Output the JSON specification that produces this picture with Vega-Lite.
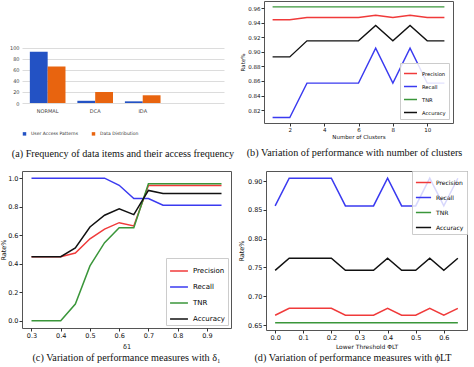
{
  "$schema": "https://vega.github.io/schema/vega-lite/v6.json",
  "padding": 0,
  "background": "white",
  "spacing": 10,
  "resolve": {"scale": {"color": "independent"}, "legend": {"color": "independent"}},
  "config": {
    "font": "DejaVu Sans",
    "view": {"stroke": "#555"},
    "axis": {"grid": false, "domain": false, "tickColor": "#333", "labelColor": "#111", "titleColor": "#111", "titleFontWeight": "normal", "tickSize": 3, "labelPadding": 1, "titlePadding": 2},
    "title": {"font": "Liberation Serif", "fontSize": 10.2, "fontWeight": "normal", "color": "#111", "orient": "bottom"},
    "legend": {"title": null}
  },
  "datasets": {
    "bars": [
      {"category": "NORMAL", "series": "User Access Patterns", "value": 93},
      {"category": "DCA", "series": "User Access Patterns", "value": 4},
      {"category": "IDA", "series": "User Access Patterns", "value": 3},
      {"category": "NORMAL", "series": "Data Distribution", "value": 66},
      {"category": "DCA", "series": "Data Distribution", "value": 20},
      {"category": "IDA", "series": "Data Distribution", "value": 14}
    ],
    "clusters": [
      {"s": "Precision", "x": 1, "v": 0.944}, {"s": "Precision", "x": 2, "v": 0.944}, {"s": "Precision", "x": 3, "v": 0.947}, {"s": "Precision", "x": 4, "v": 0.947}, {"s": "Precision", "x": 5, "v": 0.947}, {"s": "Precision", "x": 6, "v": 0.947}, {"s": "Precision", "x": 7, "v": 0.95}, {"s": "Precision", "x": 8, "v": 0.947}, {"s": "Precision", "x": 9, "v": 0.95}, {"s": "Precision", "x": 10, "v": 0.947}, {"s": "Precision", "x": 11, "v": 0.947},
      {"s": "Recall", "x": 1, "v": 0.81}, {"s": "Recall", "x": 2, "v": 0.81}, {"s": "Recall", "x": 3, "v": 0.857}, {"s": "Recall", "x": 4, "v": 0.857}, {"s": "Recall", "x": 5, "v": 0.857}, {"s": "Recall", "x": 6, "v": 0.857}, {"s": "Recall", "x": 7, "v": 0.905}, {"s": "Recall", "x": 8, "v": 0.857}, {"s": "Recall", "x": 9, "v": 0.905}, {"s": "Recall", "x": 10, "v": 0.857}, {"s": "Recall", "x": 11, "v": 0.857},
      {"s": "TNR", "x": 1, "v": 0.9615}, {"s": "TNR", "x": 2, "v": 0.9615}, {"s": "TNR", "x": 3, "v": 0.9615}, {"s": "TNR", "x": 4, "v": 0.9615}, {"s": "TNR", "x": 5, "v": 0.9615}, {"s": "TNR", "x": 6, "v": 0.9615}, {"s": "TNR", "x": 7, "v": 0.9615}, {"s": "TNR", "x": 8, "v": 0.9615}, {"s": "TNR", "x": 9, "v": 0.9615}, {"s": "TNR", "x": 10, "v": 0.9615}, {"s": "TNR", "x": 11, "v": 0.9615},
      {"s": "Accuracy", "x": 1, "v": 0.893}, {"s": "Accuracy", "x": 2, "v": 0.893}, {"s": "Accuracy", "x": 3, "v": 0.915}, {"s": "Accuracy", "x": 4, "v": 0.915}, {"s": "Accuracy", "x": 5, "v": 0.915}, {"s": "Accuracy", "x": 6, "v": 0.915}, {"s": "Accuracy", "x": 7, "v": 0.936}, {"s": "Accuracy", "x": 8, "v": 0.915}, {"s": "Accuracy", "x": 9, "v": 0.936}, {"s": "Accuracy", "x": 10, "v": 0.915}, {"s": "Accuracy", "x": 11, "v": 0.915}
    ],
    "delta": [
      {"s": "Precision", "x": 0.30, "v": 0.45}, {"s": "Precision", "x": 0.35, "v": 0.45}, {"s": "Precision", "x": 0.40, "v": 0.45}, {"s": "Precision", "x": 0.45, "v": 0.475}, {"s": "Precision", "x": 0.50, "v": 0.575}, {"s": "Precision", "x": 0.55, "v": 0.643}, {"s": "Precision", "x": 0.60, "v": 0.688}, {"s": "Precision", "x": 0.65, "v": 0.665}, {"s": "Precision", "x": 0.70, "v": 0.948}, {"s": "Precision", "x": 0.75, "v": 0.948}, {"s": "Precision", "x": 0.80, "v": 0.948}, {"s": "Precision", "x": 0.85, "v": 0.948}, {"s": "Precision", "x": 0.90, "v": 0.948}, {"s": "Precision", "x": 0.95, "v": 0.948},
      {"s": "Recall", "x": 0.30, "v": 1.0}, {"s": "Recall", "x": 0.35, "v": 1.0}, {"s": "Recall", "x": 0.40, "v": 1.0}, {"s": "Recall", "x": 0.45, "v": 1.0}, {"s": "Recall", "x": 0.50, "v": 1.0}, {"s": "Recall", "x": 0.55, "v": 1.0}, {"s": "Recall", "x": 0.60, "v": 0.95}, {"s": "Recall", "x": 0.65, "v": 0.857}, {"s": "Recall", "x": 0.70, "v": 0.857}, {"s": "Recall", "x": 0.75, "v": 0.81}, {"s": "Recall", "x": 0.80, "v": 0.81}, {"s": "Recall", "x": 0.85, "v": 0.81}, {"s": "Recall", "x": 0.90, "v": 0.81}, {"s": "Recall", "x": 0.95, "v": 0.81},
      {"s": "TNR", "x": 0.30, "v": 0.0}, {"s": "TNR", "x": 0.35, "v": 0.0}, {"s": "TNR", "x": 0.40, "v": 0.0}, {"s": "TNR", "x": 0.45, "v": 0.118}, {"s": "TNR", "x": 0.50, "v": 0.385}, {"s": "TNR", "x": 0.55, "v": 0.548}, {"s": "TNR", "x": 0.60, "v": 0.652}, {"s": "TNR", "x": 0.65, "v": 0.652}, {"s": "TNR", "x": 0.70, "v": 0.96}, {"s": "TNR", "x": 0.75, "v": 0.96}, {"s": "TNR", "x": 0.80, "v": 0.96}, {"s": "TNR", "x": 0.85, "v": 0.96}, {"s": "TNR", "x": 0.90, "v": 0.96}, {"s": "TNR", "x": 0.95, "v": 0.96},
      {"s": "Accuracy", "x": 0.30, "v": 0.45}, {"s": "Accuracy", "x": 0.35, "v": 0.45}, {"s": "Accuracy", "x": 0.40, "v": 0.45}, {"s": "Accuracy", "x": 0.45, "v": 0.511}, {"s": "Accuracy", "x": 0.50, "v": 0.658}, {"s": "Accuracy", "x": 0.55, "v": 0.74}, {"s": "Accuracy", "x": 0.60, "v": 0.785}, {"s": "Accuracy", "x": 0.65, "v": 0.744}, {"s": "Accuracy", "x": 0.70, "v": 0.914}, {"s": "Accuracy", "x": 0.75, "v": 0.893}, {"s": "Accuracy", "x": 0.80, "v": 0.893}, {"s": "Accuracy", "x": 0.85, "v": 0.893}, {"s": "Accuracy", "x": 0.90, "v": 0.893}, {"s": "Accuracy", "x": 0.95, "v": 0.893}
    ],
    "phi": [
      {"s": "Precision", "x": 0.00, "v": 0.667}, {"s": "Precision", "x": 0.05, "v": 0.679}, {"s": "Precision", "x": 0.10, "v": 0.679}, {"s": "Precision", "x": 0.15, "v": 0.679}, {"s": "Precision", "x": 0.20, "v": 0.679}, {"s": "Precision", "x": 0.25, "v": 0.667}, {"s": "Precision", "x": 0.30, "v": 0.667}, {"s": "Precision", "x": 0.35, "v": 0.667}, {"s": "Precision", "x": 0.40, "v": 0.679}, {"s": "Precision", "x": 0.45, "v": 0.667}, {"s": "Precision", "x": 0.50, "v": 0.667}, {"s": "Precision", "x": 0.55, "v": 0.679}, {"s": "Precision", "x": 0.60, "v": 0.667}, {"s": "Precision", "x": 0.65, "v": 0.679},
      {"s": "Recall", "x": 0.00, "v": 0.857}, {"s": "Recall", "x": 0.05, "v": 0.905}, {"s": "Recall", "x": 0.10, "v": 0.905}, {"s": "Recall", "x": 0.15, "v": 0.905}, {"s": "Recall", "x": 0.20, "v": 0.905}, {"s": "Recall", "x": 0.25, "v": 0.857}, {"s": "Recall", "x": 0.30, "v": 0.857}, {"s": "Recall", "x": 0.35, "v": 0.857}, {"s": "Recall", "x": 0.40, "v": 0.905}, {"s": "Recall", "x": 0.45, "v": 0.857}, {"s": "Recall", "x": 0.50, "v": 0.857}, {"s": "Recall", "x": 0.55, "v": 0.905}, {"s": "Recall", "x": 0.60, "v": 0.857}, {"s": "Recall", "x": 0.65, "v": 0.905},
      {"s": "TNR", "x": 0.00, "v": 0.654}, {"s": "TNR", "x": 0.05, "v": 0.654}, {"s": "TNR", "x": 0.10, "v": 0.654}, {"s": "TNR", "x": 0.15, "v": 0.654}, {"s": "TNR", "x": 0.20, "v": 0.654}, {"s": "TNR", "x": 0.25, "v": 0.654}, {"s": "TNR", "x": 0.30, "v": 0.654}, {"s": "TNR", "x": 0.35, "v": 0.654}, {"s": "TNR", "x": 0.40, "v": 0.654}, {"s": "TNR", "x": 0.45, "v": 0.654}, {"s": "TNR", "x": 0.50, "v": 0.654}, {"s": "TNR", "x": 0.55, "v": 0.654}, {"s": "TNR", "x": 0.60, "v": 0.654}, {"s": "TNR", "x": 0.65, "v": 0.654},
      {"s": "Accuracy", "x": 0.00, "v": 0.745}, {"s": "Accuracy", "x": 0.05, "v": 0.766}, {"s": "Accuracy", "x": 0.10, "v": 0.766}, {"s": "Accuracy", "x": 0.15, "v": 0.766}, {"s": "Accuracy", "x": 0.20, "v": 0.766}, {"s": "Accuracy", "x": 0.25, "v": 0.745}, {"s": "Accuracy", "x": 0.30, "v": 0.745}, {"s": "Accuracy", "x": 0.35, "v": 0.745}, {"s": "Accuracy", "x": 0.40, "v": 0.766}, {"s": "Accuracy", "x": 0.45, "v": 0.745}, {"s": "Accuracy", "x": 0.50, "v": 0.745}, {"s": "Accuracy", "x": 0.55, "v": 0.766}, {"s": "Accuracy", "x": 0.60, "v": 0.745}, {"s": "Accuracy", "x": 0.65, "v": 0.766}
    ]
  },
  "vconcat": [
    {
      "spacing": 5,
      "resolve": {"scale": {"color": "independent"}, "legend": {"color": "independent"}},
      "hconcat": [
        {
          "width": 202,
          "height": 102,
          "data": {"name": "bars"},
          "title": {"text": "(a) Frequency of data items and their access frequency", "offset": 13, "frame": "group"},
          "view": {"stroke": null},
          "mark": {"type": "bar"},
          "encoding": {
            "x": {"field": "category", "type": "nominal", "sort": ["NORMAL", "DCA", "IDA"], "scale": {"paddingInner": 0.25, "paddingOuter": 0.75, "align": 0.11}, "axis": {"title": null, "labelAngle": 0, "ticks": false, "labelFontSize": 5, "labelColor": "#444", "labelPadding": 5}},
            "xOffset": {"field": "series", "type": "nominal", "sort": ["User Access Patterns", "Data Distribution"]},
            "y": {"field": "value", "type": "quantitative", "scale": {"domain": [0, 185], "nice": false}, "axis": {"values": [0, 20, 40, 60, 80, 100], "grid": true, "gridColor": "#dcdcdc", "ticks": false, "title": null, "labelFontSize": 5, "labelColor": "#444", "labelPadding": 3}},
            "color": {"field": "series", "type": "nominal", "scale": {"domain": ["User Access Patterns", "Data Distribution"], "range": ["#2352c4", "#e8640f"]}, "legend": {"orient": "bottom", "direction": "horizontal", "labelFontSize": 4.5, "labelColor": "#333", "symbolType": "square", "symbolSize": 12, "columnPadding": 12, "offset": 18}}
          }
        },
        {
          "width": 189,
          "height": 122,
          "data": {"name": "clusters"},
          "title": {"text": "(b) Variation of performance with number of clusters", "offset": 8, "frame": "group", "dx": -4},
          "mark": {"type": "line", "strokeWidth": 1.4},
          "encoding": {
            "x": {"field": "x", "type": "quantitative", "scale": {"domain": [0.5, 11.5], "nice": false, "zero": false}, "axis": {"values": [2, 4, 6, 8, 10], "title": "Number of Clusters", "labelFontSize": 5.5, "titleFontSize": 5.5}},
            "y": {"field": "v", "type": "quantitative", "scale": {"domain": [0.8024, 0.9696], "nice": false, "zero": false}, "axis": {"values": [0.82, 0.84, 0.86, 0.88, 0.9, 0.92, 0.94, 0.96], "format": ".2f", "title": "Rate%", "labelFontSize": 5.5, "titleFontSize": 5.5}},
            "color": {"field": "s", "type": "nominal", "scale": {"domain": ["Precision", "Recall", "TNR", "Accuracy"], "range": ["#f03a3a", "#3a3af0", "#3a963a", "#111111"]}, "legend": {"orient": "bottom-right", "symbolType": "stroke", "symbolSize": 170, "symbolStrokeWidth": 1.5, "labelFontSize": 5.2, "fillColor": "rgba(255,255,255,0.85)", "strokeColor": "#ccc", "padding": 3, "rowPadding": 2, "offset": 4}}
          }
        }
      ]
    },
    {
      "spacing": 6,
      "resolve": {"scale": {"color": "independent"}, "legend": {"color": "independent"}},
      "hconcat": [
        {
          "width": 209,
          "height": 157,
          "data": {"name": "delta"},
          "title": {"text": "(c) Variation of performance measures with δ₁", "offset": 3, "frame": "group"},
          "mark": {"type": "line", "strokeWidth": 1.5},
          "encoding": {
            "x": {"field": "x", "type": "quantitative", "scale": {"domain": [0.2675, 0.9825], "nice": false, "zero": false}, "axis": {"values": [0.3, 0.4, 0.5, 0.6, 0.7, 0.8, 0.9], "format": ".1f", "title": "δ1", "labelFontSize": 6.5, "titleFontSize": 6.5, "titlePadding": 5}},
            "y": {"field": "v", "type": "quantitative", "scale": {"domain": [-0.05, 1.05], "nice": false}, "axis": {"values": [0, 0.2, 0.4, 0.6, 0.8, 1.0], "format": ".1f", "title": "Rate%", "labelFontSize": 6.5, "titleFontSize": 6.5, "titlePadding": 1}},
            "color": {"field": "s", "type": "nominal", "scale": {"domain": ["Precision", "Recall", "TNR", "Accuracy"], "range": ["#f03a3a", "#3a3af0", "#3a963a", "#111111"]}, "legend": {"orient": "bottom-right", "symbolType": "stroke", "symbolSize": 320, "symbolStrokeWidth": 1.5, "labelFontSize": 7, "fillColor": "rgba(255,255,255,0.85)", "strokeColor": "#ccc", "padding": 3, "rowPadding": 3, "offset": 3}}
          }
        },
        {
          "width": 201,
          "height": 159,
          "data": {"name": "phi"},
          "title": {"text": "(d) Variation of performance measures with ϕLT", "offset": 3, "frame": "bounds"},
          "mark": {"type": "line", "strokeWidth": 1.5},
          "encoding": {
            "x": {"field": "x", "type": "quantitative", "scale": {"domain": [-0.0325, 0.6825], "nice": false, "zero": false}, "axis": {"values": [0, 0.1, 0.2, 0.3, 0.4, 0.5, 0.6], "format": ".1f", "title": "Lower Threshold ΦLT", "labelFontSize": 6.5, "titleFontSize": 6, "titlePadding": 3}},
            "y": {"field": "v", "type": "quantitative", "scale": {"domain": [0.6414, 0.9176], "nice": false, "zero": false}, "axis": {"values": [0.65, 0.7, 0.75, 0.8, 0.85, 0.9], "format": ".2f", "title": "Rate%", "labelFontSize": 6.5, "titleFontSize": 6.5, "titlePadding": 3}},
            "color": {"field": "s", "type": "nominal", "scale": {"domain": ["Precision", "Recall", "TNR", "Accuracy"], "range": ["#f03a3a", "#3a3af0", "#3a963a", "#111111"]}, "legend": {"orient": "top-right", "symbolType": "stroke", "symbolSize": 230, "symbolStrokeWidth": 1.5, "labelFontSize": 6, "fillColor": "rgba(255,255,255,0.8)", "strokeColor": "#ccc", "padding": 3, "rowPadding": 3, "offset": 0}}
          }
        }
      ]
    }
  ]
}
